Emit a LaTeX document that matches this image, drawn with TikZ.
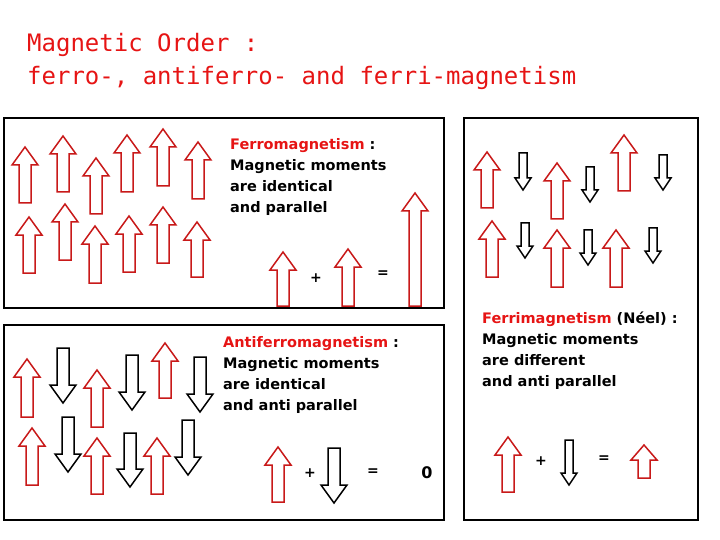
\documentclass[tikz,border=0pt]{standalone}
\usepackage{fontspec}
\setmainfont{DejaVu Sans}
\setmonofont{DejaVu Sans Mono}
\definecolor{ared}{RGB}{200,25,25}
\definecolor{tred}{RGB}{230,20,20}
\newcommand\Arr[7]{%
  \pgfmathsetmacro\nk{#4+#7*sign(#3-#4)}%
  \draw[#1,line width=1.5pt,line join=miter] (#2-#5,#3) -- (#2-#5,\nk) -- (#2-#6,\nk) -- (#2,#4) -- (#2+#6,\nk) -- (#2+#5,\nk) -- (#2+#5,#3) -- cycle;}
\newcommand\RU[3]{\Arr{ared}{#1}{#3}{#2}{6}{13}{18}}
\newcommand\BD[3]{\Arr{black}{#1}{#2}{#3}{6}{13}{18}}
\newcommand\SD[3]{\Arr{black}{#1}{#2}{#3}{4}{8}{12}}
\begin{document}
\begin{tikzpicture}[x=1pt,y=-1pt,
  txt/.style={anchor=north west,align=left,font=\fontsize{14.5}{21}\selectfont\bfseries,inner sep=0pt},
  op/.style={font=\fontsize{14}{16}\selectfont\bfseries},
  box/.style={draw=black,line width=1.8pt}]
\useasboundingbox (0,0) rectangle (720,540);
\node[anchor=west,text=tred,align=left,font=\fontsize{24}{33}\selectfont\ttfamily,inner sep=0pt] (title) at (27,61) {Magnetic Order :\\ferro-, antiferro- and ferri-magnetism};
% boxes
\draw[box] (4,118) rectangle (444,308);
\draw[box] (4,325) rectangle (444,520);
\draw[box] (464,118) rectangle (698,520);
% ferro
\RU{25}{147}{203}\RU{63}{136}{192}\RU{96}{158}{214}\RU{127}{135}{192}\RU{163}{129}{186}\RU{198}{142}{199}
\RU{29}{217}{273}\RU{65}{204}{260}\RU{95}{226}{283}\RU{129}{216}{272}\RU{163}{207}{263}\RU{197}{222}{277}
\node[txt] (ft) at (230,138) {\textcolor{tred}{Ferromagnetism} :\\Magnetic moments\\are identical\\and parallel};
\RU{283}{252}{306}\node[op] (fp) at (316,278) {+};
\RU{348}{249}{306}\node[op] (fe) at (383,274) {=};
\Arr{ared}{415}{306}{193}{6}{13}{18}
% antiferro
\RU{27}{359}{417}\BD{63}{348}{403}\RU{97}{370}{427}\BD{132}{355}{410}\RU{165}{343}{398}\BD{200}{357}{412}
\RU{32}{428}{485}\BD{68}{417}{472}\RU{97}{438}{494}\BD{130}{433}{487}\RU{157}{438}{494}\BD{188}{420}{475}
\node[txt] (at) at (223,336) {\textcolor{tred}{Antiferromagnetism} :\\Magnetic moments\\are identical\\and anti parallel};
\RU{278}{447}{502}\node[op] (ap) at (310,473) {+};
\BD{334}{448}{503}\node[op] (ae) at (373,472) {=};
\node[font=\fontsize{16}{18}\selectfont\bfseries] (az) at (427,473) {0};
% ferri
\RU{487}{152}{208}\SD{523}{153}{190}\RU{557}{163}{219}\SD{590}{167}{202}\RU{624}{135}{191}\SD{663}{155}{190}
\RU{492}{221}{277}\SD{525}{223}{258}\RU{557}{230}{287}\SD{588}{230}{265}\RU{616}{230}{287}\SD{653}{228}{263}
\node[txt] (rt) at (482,312) {\textcolor{tred}{Ferrimagnetism} (Néel) :\\Magnetic moments\\are different\\and anti parallel};
\RU{508}{437}{492}\node[op] (rp) at (541,461) {+};
\SD{569}{440}{485}\node[op] (re) at (604,459) {=};
\Arr{ared}{644}{478}{445}{6}{13}{15}
\end{tikzpicture}
\end{document}
